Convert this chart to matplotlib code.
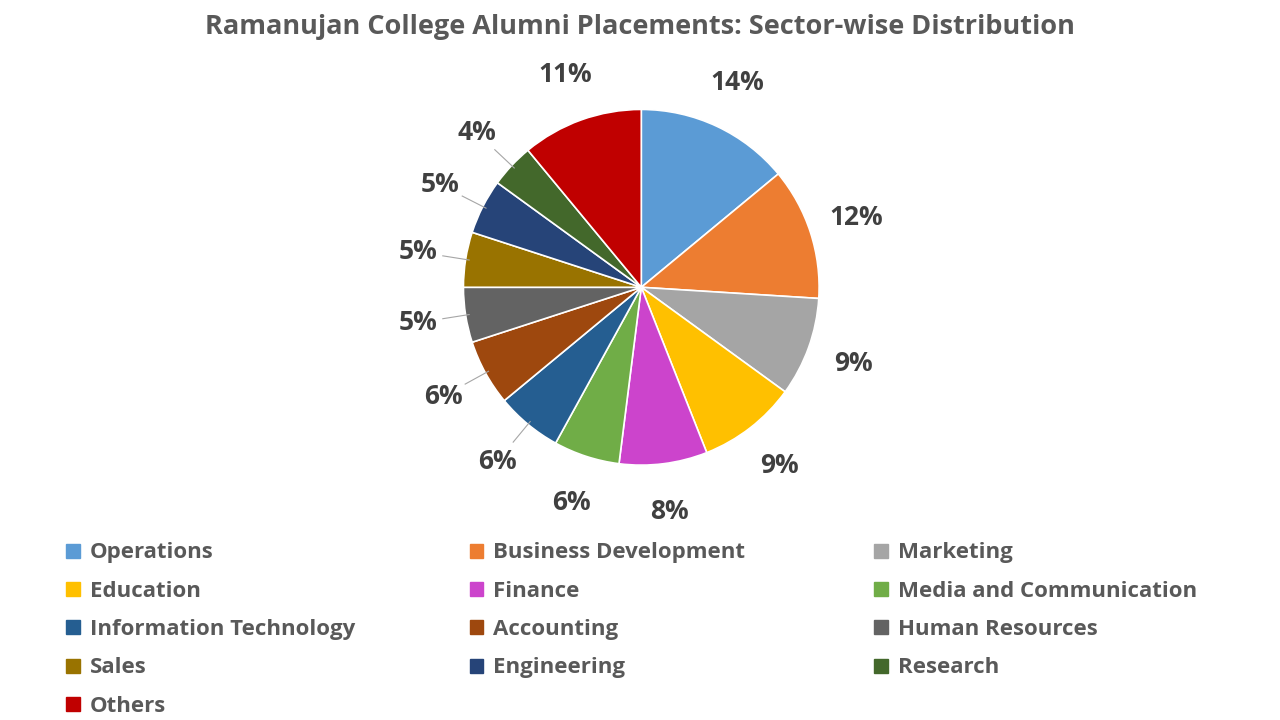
import matplotlib
matplotlib.use("Agg")
import matplotlib.pyplot as plt
import numpy as np
from matplotlib.patches import Patch

categories = ["Operations","Business Development","Marketing","Education","Finance",
              "Media and Communication","Information Technology","Accounting",
              "Human Resources","Sales","Engineering","Research","Others"]
values = [14,12,9,9,8,6,6,6,5,5,5,4,11]
colors = ["#5B9BD5","#ED7D31","#A5A5A5","#FFC000","#CC44CC","#70AD47","#255E91",
          "#9E480E","#636363","#997300","#264478","#43682B","#C00000"]

plt.rcParams['font.family'] = ['Open Sans','DejaVu Sans']
fig = plt.figure(figsize=(12.8,7.2), dpi=100)
fig.text(0.5, 0.962, "Ramanujan College Alumni Placements: Sector-wise Distribution",
         ha='center', va='center', fontsize=19.5, fontweight='bold', color='#595959')
ax = fig.add_axes([0.362, 0.354, 0.278, 0.494])
wedges, texts, autotexts = ax.pie(values, colors=colors, startangle=90, counterclock=False,
       autopct='%d%%', pctdistance=1.27,
       wedgeprops=dict(edgecolor='white', linewidth=1.2),
       textprops=dict(fontsize=19, fontweight='bold', color='#404040'))
for w in wedges[6:12]:
    th = np.deg2rad((w.theta1 + w.theta2) / 2)
    ax.plot([0.98*np.cos(th), 1.13*np.cos(th)], [0.98*np.sin(th), 1.13*np.sin(th)],
            color='#A6A6A6', lw=0.8, clip_on=False)
ax.set_xlim(-1, 1); ax.set_ylim(-1, 1)
ax.set_aspect('equal')
handles = [Patch(color=c, label=l) for c, l in zip(colors, categories)]
xs = [0.045, 0.36, 0.676]
for col in range(3):
    hs = handles[col::3]
    fig.legend(handles=hs, loc='upper left', bbox_to_anchor=(xs[col], 0.259),
               frameon=False, prop=dict(size=16, weight='bold'), labelcolor='#595959',
               handlelength=0.6, handleheight=0.6, handletextpad=0.45,
               labelspacing=0.78, borderaxespad=0)
fig.savefig("out.png", dpi=100, facecolor='white')
